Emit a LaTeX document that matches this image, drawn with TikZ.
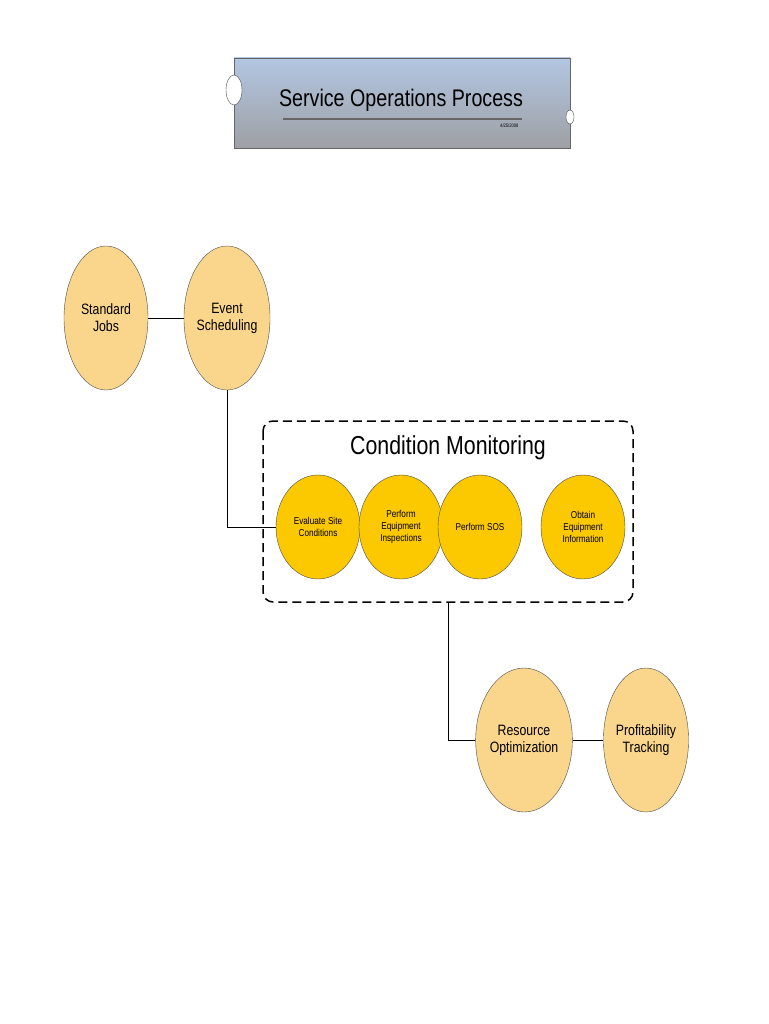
\documentclass[tikz,border=0pt]{standalone}
\usepackage{fontspec}
\usetikzlibrary{shapes.geometric}
\setmainfont[FakeStretch=0.82]{Liberation Sans}
\definecolor{bigfill}{RGB}{250,214,140}
\definecolor{smallfill}{RGB}{252,200,0}
\definecolor{topc}{RGB}{178,198,226}
\definecolor{botc}{RGB}{158,160,164}
\begin{document}
\begin{tikzpicture}[x=1pt,y=-1pt,
 big/.style={ellipse,draw=black!70,fill=bigfill,minimum width=84pt,minimum height=144pt,inner sep=0pt,align=center,font=\fontsize{15}{17}\selectfont},
 small/.style={ellipse,draw=black!70,fill=smallfill,minimum width=84pt,minimum height=104pt,inner sep=0pt,align=center,font=\fontsize{10}{12}\selectfont},
 conn/.style={draw=black,line width=0.8pt}]
\useasboundingbox (0,0) rectangle (768,1024);
\shade[top color=topc,bottom color=botc] (234,58) rectangle (570,148);
\draw[black!60] (234,58) rectangle (570,148);
\node[ellipse,draw=black!70,fill=white,minimum width=16pt,minimum height=30pt,inner sep=0pt] (hl) at (234,90) {};
\node[ellipse,draw=black!70,fill=white,minimum width=8pt,minimum height=14pt,inner sep=0pt] (hr) at (570,117) {};
\node[font=\fontsize{24}{26}\selectfont] (title) at (401,100) {Service Operations Process};
\draw[black!60,line width=1.5pt] (283,119) -- (522,119);
\node[font=\fontsize{5}{6}\selectfont,anchor=east] (date) at (522,126) {4/25/2008};
\node[big] (sj) at (106,318) {Standard\\Jobs};
\node[big] (es) at (227,318) {Event\\Scheduling};
\draw[black,line width=1.5pt,dash pattern=on 9pt off 5pt,rounded corners=10pt] (263,421) rectangle (633,602);
\node[font=\fontsize{26}{28}\selectfont] (cm) at (448,448) {Condition Monitoring};
\node[small] (s1) at (318,527) {Evaluate Site\\Conditions};
\node[small] (s2) at (401,527) {Perform\\Equipment\\Inspections};
\node[small] (s3) at (480,527) {Perform SOS};
\node[small] (s4) at (583,527) {Obtain\\Equipment\\Information};
\coordinate (bb) at (448,602);
\node[big] (ro) at (524,740) {Resource\\Optimization};
\node[big] (pt) at (646,740) {Profitability\\Tracking};
\draw[conn] (sj) -- (es);
\draw[conn] (es.south) |- (s1.west);
\draw[conn] (bb) |- (ro.west);
\draw[conn] (ro) -- (pt);
\end{tikzpicture}
\end{document}
